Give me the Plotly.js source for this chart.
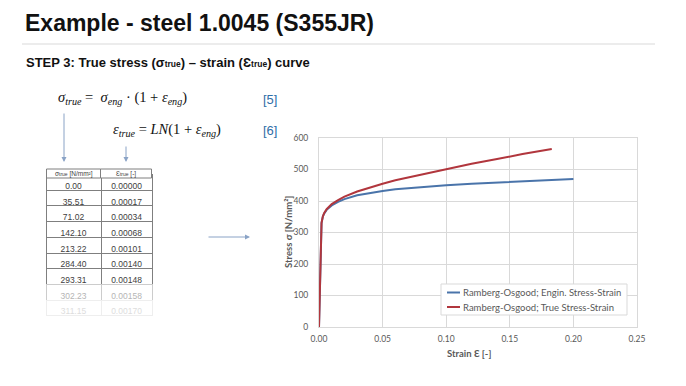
<!DOCTYPE html>
<html>
<head>
<meta charset="utf-8">
<script src="https://cdn.plot.ly/plotly-3.0.1.min.js"></script>
<style>
html,body{margin:0;padding:0;background:#fff;}
#chart{width:686px;height:386px;}
</style>
</head>
<body>
<div id="chart"></div>
<script>
// ---- data ----
var engStrain = [0, 0.0005, 0.001, 0.0015, 0.002, 0.003, 0.004, 0.006, 0.008, 0.01, 0.015, 0.02, 0.03, 0.04, 0.05, 0.06, 0.08, 0.10, 0.12, 0.14, 0.16, 0.18, 0.20];
var engStress = [0, 105, 210, 300, 330, 350, 360, 372, 380, 386, 397, 406, 418, 426, 432, 437, 444, 450, 455, 459, 463, 467, 470];
var trueStrain = [0, 0.0005, 0.001, 0.0015, 0.002, 0.003, 0.004, 0.006, 0.008, 0.01, 0.015, 0.02, 0.03, 0.04, 0.05, 0.06, 0.08, 0.10, 0.12, 0.14, 0.16, 0.183];
var trueStress = [0, 105, 210, 300, 331, 351, 361, 374, 383, 390, 403, 414, 430, 443, 455, 466, 484, 501, 518, 533, 549, 565];

var tableStress = ["0.00", "35.51", "71.02", "142.10", "213.22", "284.40", "293.31", "302.23", "311.15"];
var tableStrain = ["0.00000", "0.00017", "0.00034", "0.00068", "0.00101", "0.00140", "0.00148", "0.00158", "0.00170"];
var tableHeader = ["σ<span style='font-size:5px'>true</span> [N/mm²]", "Ɛ<span style='font-size:5px'>true</span> [-]"];

var seriesNames = ["Ramberg-Osgood; Engin. Stress-Strain", "Ramberg-Osgood; True Stress-Strain"];
var seriesColors = ['#4a74aa', '#b1363d'];

// ---- helpers for slide positioning (pixels -> paper) ----
var W = 686, H = 386;
function px(x){ return x / W; }
function py(y){ return 1 - y / H; }

var textColors = tableStress.map(function(v, i){
  return i === 7 ? '#b5b5b5' : (i === 8 ? '#dddddd' : '#404040');
});
var lineColors = tableStress.map(function(v, i){
  return i === 7 ? '#cccccc' : (i === 8 ? '#eeeeee' : '#7f7f7f');
});

var traces = [
  {
    type: 'scatter', mode: 'lines', x: engStrain, y: engStress, name: seriesNames[0],
    line: {color: seriesColors[0], width: 2}, xaxis: 'x', yaxis: 'y', showlegend: false
  },
  {
    type: 'scatter', mode: 'lines', x: trueStrain, y: trueStress, name: seriesNames[1],
    line: {color: seriesColors[1], width: 2}, xaxis: 'x', yaxis: 'y', showlegend: false
  },
  {
    type: 'table',
    domain: {x: [px(46), px(152)], y: [py(322), py(158.5)]},
    columnwidth: [55, 51],
    header: {values: [], line: {color: 'rgba(0,0,0,0)', width: 0}, fill: {color: 'rgba(0,0,0,0)'}},
    cells: {
      values: [tableStress, tableStrain],
      height: 15.7,
      align: 'center',
      fill: {color: '#ffffff'},
      line: {color: [lineColors, lineColors], width: 1},
      font: {family: 'Liberation Sans, Arial, sans-serif', size: 8.5, color: [textColors, textColors]}
    }
  }
];

var tickFont = {family: 'Lato, Open Sans, sans-serif', size: 8.5, color: '#595959'};
var legFont = {family: 'Lato, Open Sans, sans-serif', size: 9.5, color: '#595959'};
var hdrFont = {family: 'Liberation Sans, Arial, sans-serif', size: 6.5, color: '#404040'};

var layout = {
  width: W, height: H,
  margin: {l: 0, r: 0, t: 0, b: 0},
  paper_bgcolor: '#ffffff', plot_bgcolor: '#ffffff',
  showlegend: false,
  xaxis: {
    domain: [px(319), px(637)], range: [0, 0.25], dtick: 0.05, tick0: 0,
    tickformat: '.2f', showgrid: true, gridcolor: '#d9d9d9', gridwidth: 1,
    zeroline: false, showline: true, linecolor: '#d9d9d9', mirror: true,
    ticks: '', tickfont: tickFont, ticklabelstandoff: 4, anchor: 'y', fixedrange: true
  },
  yaxis: {
    domain: [py(327), py(138)], range: [0, 600], dtick: 100, tick0: 0,
    showgrid: true, gridcolor: '#d9d9d9', gridwidth: 1,
    zeroline: false, showline: true, linecolor: '#d9d9d9', mirror: true,
    ticks: '', tickfont: tickFont, ticklabelstandoff: 8, anchor: 'x', fixedrange: true
  },
  shapes: [
    {type: 'line', xref: 'paper', yref: 'paper', x0: px(22), x1: px(655), y0: py(44), y1: py(44),
     line: {color: '#d9d9d9', width: 1}},
    // table header row frame
    {type: 'rect', xref: 'paper', yref: 'paper', x0: px(46.5), x1: px(100.5), y0: py(178), y1: py(169),
     fillcolor: '#ffffff', line: {color: '#7f7f7f', width: 1}, layer: 'above'},
    {type: 'rect', xref: 'paper', yref: 'paper', x0: px(100.5), x1: px(151.5), y0: py(178), y1: py(169),
     fillcolor: '#ffffff', line: {color: '#7f7f7f', width: 1}, layer: 'above'},
    // legend box and keys
    {type: 'rect', xref: 'paper', yref: 'paper', x0: px(441), x1: px(627), y0: py(315), y1: py(284),
     fillcolor: '#ffffff', line: {color: '#d9d9d9', width: 1}, layer: 'above'},
    {type: 'line', xref: 'paper', yref: 'paper', x0: px(447), x1: px(460), y0: py(292.5), y1: py(292.5),
     line: {color: seriesColors[0], width: 2}, layer: 'above'},
    {type: 'line', xref: 'paper', yref: 'paper', x0: px(447), x1: px(460), y0: py(307), y1: py(307),
     line: {color: seriesColors[1], width: 2}, layer: 'above'}
  ],
  annotations: [
    {xref: 'paper', yref: 'paper', x: px(23), y: py(23), xanchor: 'left', yanchor: 'middle', showarrow: false,
     text: '<b>Example - steel 1.0045 (S355JR)</b>',
     font: {family: 'Liberation Sans, Arial, sans-serif', size: 23, color: '#111111'}},
    {xref: 'paper', yref: 'paper', x: px(24), y: py(62), xanchor: 'left', yanchor: 'middle', showarrow: false,
     text: "<b>STEP 3: True stress (σ<span style='font-size:8.5px'>true</span>) – strain (Ɛ<span style='font-size:8.5px'>true</span>) curve</b>",
     font: {family: 'Liberation Sans, Arial, sans-serif', size: 13, color: '#111111'}},
    {xref: 'paper', yref: 'paper', x: px(56), y: py(98), xanchor: 'left', yanchor: 'middle', showarrow: false,
     text: '<i>σ</i><sub><i>true</i></sub> =  <i>σ</i><sub><i>eng</i></sub> · (1 + <i>ε</i><sub><i>eng</i></sub>)',
     font: {family: 'Liberation Serif, serif', size: 14.5, color: '#111111'}},
    {xref: 'paper', yref: 'paper', x: px(111), y: py(130), xanchor: 'left', yanchor: 'middle', showarrow: false,
     text: '<i>ε</i><sub><i>true</i></sub> = <i>LN</i>(1 + <i>ε</i><sub><i>eng</i></sub>)',
     font: {family: 'Liberation Serif, serif', size: 14.5, color: '#111111'}},
    {xref: 'paper', yref: 'paper', x: px(261), y: py(99), xanchor: 'left', yanchor: 'middle', showarrow: false,
     text: '[5]', font: {family: 'Liberation Sans, Arial, sans-serif', size: 13, color: '#2f6ea8'}},
    {xref: 'paper', yref: 'paper', x: px(261), y: py(130), xanchor: 'left', yanchor: 'middle', showarrow: false,
     text: '[6]', font: {family: 'Liberation Sans, Arial, sans-serif', size: 13, color: '#2f6ea8'}},
    // table header texts
    {xref: 'paper', yref: 'paper', x: px(73.5), y: py(173.5), xanchor: 'center', yanchor: 'middle', showarrow: false,
     text: tableHeader[0], font: hdrFont},
    {xref: 'paper', yref: 'paper', x: px(126), y: py(173.5), xanchor: 'center', yanchor: 'middle', showarrow: false,
     text: tableHeader[1], font: hdrFont},
    // arrows
    {xref: 'paper', yref: 'paper', x: px(64), y: py(162), ax: 0, ay: -50, text: '', showarrow: true,
     arrowhead: 2, arrowsize: 1, arrowwidth: 1, arrowcolor: '#8aa3c6'},
    {xref: 'paper', yref: 'paper', x: px(126), y: py(162), ax: 0, ay: -17, text: '', showarrow: true,
     arrowhead: 2, arrowsize: 1, arrowwidth: 1, arrowcolor: '#8aa3c6'},
    {xref: 'paper', yref: 'paper', x: px(250), y: py(237), ax: -43, ay: 0, text: '', showarrow: true,
     arrowhead: 2, arrowsize: 1, arrowwidth: 1, arrowcolor: '#8aa3c6'},
    // axis titles
    {xref: 'paper', yref: 'paper', x: px(469), y: py(353), xanchor: 'center', yanchor: 'middle', showarrow: false,
     text: '<b>Strain Ɛ [-]</b>', font: {family: 'Lato, Open Sans, sans-serif', size: 9.5, color: '#595959'}},
    {xref: 'paper', yref: 'paper', x: px(288), y: py(232), xanchor: 'center', yanchor: 'middle', showarrow: false,
     textangle: -90,
     text: '<b>Stress σ [N/mm²]</b>', font: {family: 'Lato, Open Sans, sans-serif', size: 9.5, color: '#595959'}},
    // legend texts
    {xref: 'paper', yref: 'paper', x: px(461), y: py(292.5), xanchor: 'left', yanchor: 'middle', showarrow: false,
     text: seriesNames[0], font: legFont},
    {xref: 'paper', yref: 'paper', x: px(461), y: py(307), xanchor: 'left', yanchor: 'middle', showarrow: false,
     text: seriesNames[1], font: legFont}
  ]
};

Plotly.newPlot('chart', traces, layout, {displayModeBar: false, staticPlot: true});
</script>
</body>
</html>
